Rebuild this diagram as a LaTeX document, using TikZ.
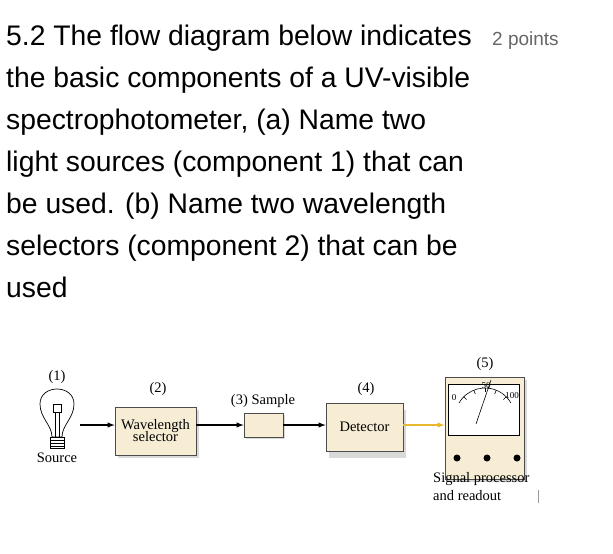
\documentclass[tikz,border=0pt]{standalone}
\usepackage{fontspec}
\setmainfont{Liberation Sans}
\newfontfamily\tnr{Liberation Serif}
\begin{document}
\begin{tikzpicture}[x=1pt,y=-1pt,
  q/.style={anchor=base west,font=\fontsize{28.3}{32}\selectfont,inner sep=0},
  d/.style={font=\tnr\fontsize{14.5}{16}\selectfont,inner sep=0,align=center},
  bx/.style={draw=black!70,fill=beige,line width=0.8pt,align=center,inner sep=0,font=\tnr\fontsize{14.5}{15}\selectfont},
  ar/.style={-latex,line width=1.4pt}]
\definecolor{beige}{HTML}{F6EDD4}
\definecolor{gold}{HTML}{E8B830}
\useasboundingbox (0,0) rectangle (613,554);
\fill[white] (0,0) rectangle (613,554);
\node[q] (l1) at (6,45) {5.2 The flow diagram below indicates};
\node[anchor=base west,font=\fontsize{19}{20}\selectfont,text=black!60,inner sep=0] (pts) at (492,45) {2 points};
\node[q] (l2) at (6,87) {the basic components of a UV-visible};
\node[q] (l3) at (6,129) {spectrophotometer, (a) Name two};
\node[q] (l4) at (6,171) {light sources (component 1) that can};
\node[q] (l5) at (6,213) {be used. (b) Name two wavelength};
\node[q] (l6) at (6,255) {selectors (component 2) that can be};
\node[q] (l7) at (6,297) {used};
% bulb
\begin{scope}[line width=0.7pt]
\draw (52,437) .. controls (52,425) and (40,418) .. (40,404) .. controls (40,384) and (74,384) .. (74,404) .. controls (74,418) and (62,425) .. (62,437) -- cycle;
\draw (53,404) rectangle (61,412);
\draw (55,412) -- (55,437) (59,412) -- (59,437);
\draw[fill=white] (50,437) rectangle (64,448);
\foreach \y in {440,443,446} \draw (50,\y) -- (64,\y);
\end{scope}
\coordinate (src) at (80,425);
\node[d] (n1) at (57,377) {(1)};
\node[d] (srcl) at (57,458) {Source};
% boxes with shadows
\fill[black!15] (118,410) rectangle (199,458);
\node[bx,minimum width=81,minimum height=48] (b2) at (155.5,431) {Wavelength\\[-3pt]selector};
\node[d] (n2) at (158,389) {(2)};
\fill[black!15] (246,415) rectangle (285,439);
\node[bx,minimum width=39,minimum height=24] (b3) at (263.5,425) {};
\node[d] (n3) at (263,401) {(3) Sample};
\fill[black!15] (329,410) rectangle (406,458);
\node[bx,minimum width=77,minimum height=48] (b4) at (364.5,427) {Detector};
\node[d] (n4) at (366,389) {(4)};
% readout
\fill[black!15] (448,380) rectangle (527,482);
\node[bx,minimum width=79,minimum height=102] (b5) at (484.5,428) {};
\draw[line width=0.7pt,fill=white] (448,384) rectangle (519,435);
\draw[line width=0.6pt] (459,403) arc[start angle=210,end angle=330,radius=30];
\foreach \a in {225,248,270,292,315} \draw[line width=0.6pt] ([shift={(485,418)}]\a:26) -- ([shift={(485,418)}]\a:30);
\draw[line width=0.6pt] (476,424) -- (491,380);
\node[d,font=\tnr\fontsize{9}{10}\selectfont] (t0) at (454,398) {0};
\node[d,font=\tnr\fontsize{9}{10}\selectfont] (t50) at (486,386) {50};
\node[d,font=\tnr\fontsize{9}{10}\selectfont] (t100) at (512,396) {100};
\foreach \x in {457,487,517} \fill (\x,458) circle (3.5);
\node[d] (n5) at (485,364) {(5)};
\node[d,align=left,anchor=north west] (sl) at (433,472) {Signal processor\\[2pt]and readout};
\draw[black!40,line width=0.6pt] (538,490) -- (538,503);
% arrows
\draw[ar] (src) -- (src -| b2.west);
\draw[ar] (b2.east |- src) -- (b3.west |- src);
\draw[ar] (b3.east |- src) -- (b4.west |- src);
\draw[-latex,line width=1.4pt,gold] (b4.east |- src) -- (b5.west |- src);
\end{tikzpicture}
\end{document}
